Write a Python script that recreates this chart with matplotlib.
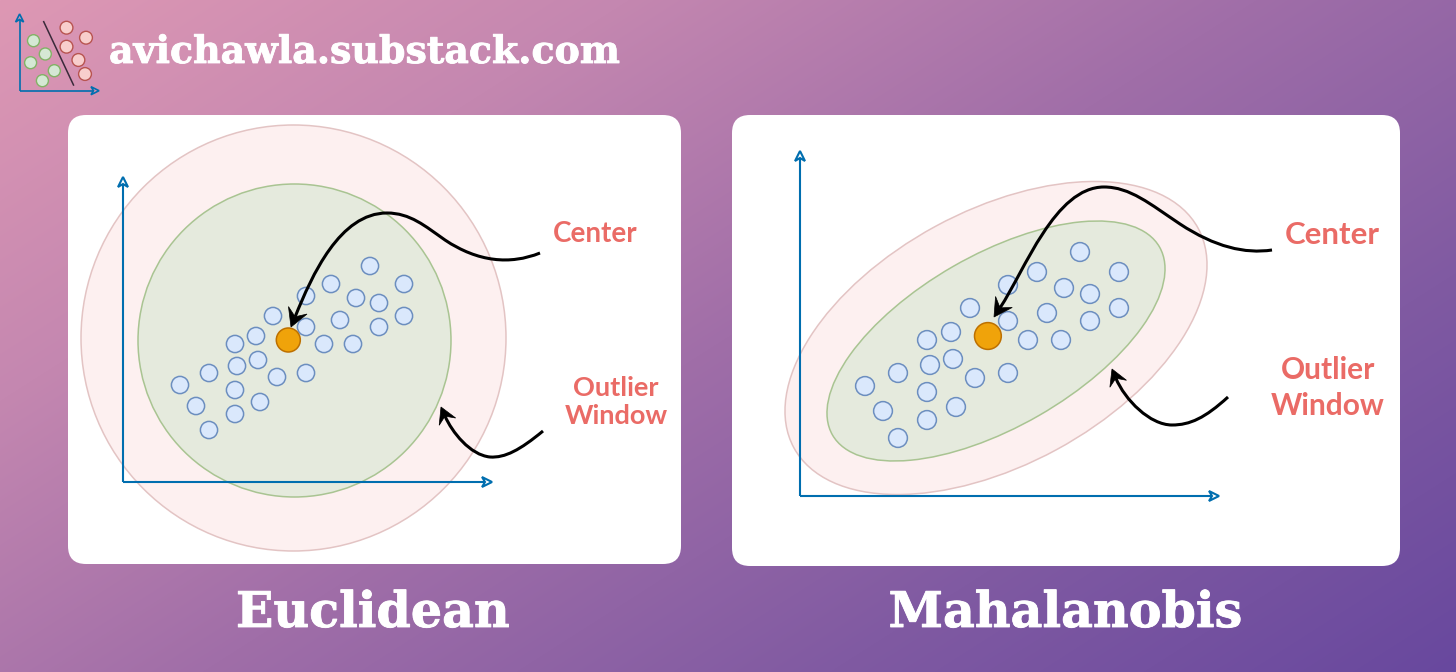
import numpy as np
import matplotlib
matplotlib.use("Agg")
import matplotlib.pyplot as plt
import matplotlib.patheffects as pe
from matplotlib.patches import Ellipse, Circle, FancyBboxPatch, PathPatch, Polygon
from matplotlib.path import Path

W, H = 1456, 672

# --- data (picture pixel coordinates) ---
euclid_x = [370, 404, 331, 306, 356, 379, 404, 273, 340, 379, 306, 256, 235, 324, 353, 258, 237, 209, 306, 277, 180, 235, 196, 260, 235, 209]
euclid_y = [266, 284, 284, 296, 298, 303, 316, 316, 320, 327, 327, 336, 344, 344, 344, 360, 366, 373, 373, 377, 385, 390, 406, 402, 414, 430]
mahal_x = [1080, 1119, 1037, 1008, 1064, 1090, 1119, 970, 1047, 1090, 1008, 951, 927, 1028, 1061, 953, 930, 898, 1008, 975, 865, 927, 883, 956, 927, 898]
mahal_y = [252, 272, 272, 285, 288, 294, 308, 308, 313, 321, 321, 332, 340, 340, 340, 359, 365, 373, 373, 378, 386, 392, 411, 407, 420, 438]
euclid_center = (288.3, 340)
mahal_center = (987.9, 336)
logo_green_x = [33.5, 45.3, 30.6, 54.3, 42.4]
logo_green_y = [40.7, 54, 62.7, 70.7, 80.7]
logo_red_x = [66.5, 86, 66.5, 78.4, 85]
logo_red_y = [27.7, 37.7, 46.7, 60, 74]
site_label = "avichawla.substack.com"
titles = ["Euclidean", "Mahalanobis"]
center_label = "Center"
outlier_label = "Outlier\nWindow"

BLUE_AX = "#006EAF"
serif = "DejaVu Serif"
hand = "Lato"

fig = plt.figure(figsize=(W / 100, H / 100), dpi=100)
ax = fig.add_axes([0, 0, 1, 1])
ax.set_xlim(0, W)
ax.set_ylim(H, 0)
ax.axis("off")

# background diagonal gradient
yy, xx = np.mgrid[0:H, 0:W]
t = (xx / W * 0.58 + yy / H * 0.42)
stops_t = [0.0, 0.25, 0.5, 0.75, 1.0]
stops_c = np.array([[222, 152, 180], [196, 135, 176], [160, 110, 168], [128, 90, 162], [104, 72, 158]]) / 255
img = np.dstack([np.interp(t, stops_t, stops_c[:, i]) for i in range(3)])
ax.imshow(img, extent=[0, W, H, 0], aspect="auto", zorder=0, interpolation="bilinear")

def panel(x0, y0, x1, y1, r=18):
    ax.add_patch(FancyBboxPatch((x0 + r, y0 + r), x1 - x0 - 2 * r, y1 - y0 - 2 * r,
                                boxstyle=f"round,pad={r},rounding_size={r}",
                                fc="white", ec="none", zorder=1))
panel(68, 115, 681, 564)
panel(732, 115, 1400, 566)

OUT_FC, OUT_EC = "#FDF0F0", "#E3C4C4"
IN_FC, IN_EC = "#E5EADD", "#A9C492"
ax.add_patch(Ellipse((293.5, 338), 425, 426, fc=OUT_FC, ec=OUT_EC, lw=1.1, zorder=2))
ax.add_patch(Ellipse((294.5, 340.5), 313, 313, fc=IN_FC, ec=IN_EC, lw=1.1, zorder=3))
ax.add_patch(Ellipse((996, 338), 2 * 230, 2 * 127, angle=-28.5, fc=OUT_FC, ec=OUT_EC, lw=1.1, zorder=2))
ax.add_patch(Ellipse((996, 341), 2 * 188.6, 2 * 86, angle=-29.9, fc=IN_FC, ec=IN_EC, lw=1.1, zorder=3))

def head(tip, frm, L, Wd, notch, fc, ec, lw, z):
    tip, frm = np.array(tip, float), np.array(frm, float)
    d = (tip - frm) / np.hypot(*(tip - frm))
    n = np.array([-d[1], d[0]])
    pts = [tip, tip - L * d + Wd * n, tip - notch * d, tip - L * d - Wd * n]
    ax.add_patch(Polygon(pts, closed=True, fc=fc, ec=ec, lw=lw, joinstyle="miter", zorder=z))
    return tip - notch * d

def axis_lines(ox, oy, xt, yt, lw=1.5, L=10, Wd=5, notch=7, fc="white"):
    for tip in [(xt, oy), (ox, yt)]:
        end = np.array(tip, float)
        d = np.array([ox, oy], float) - end
        end = end + d / np.hypot(*d) * notch
        ax.plot([ox, end[0]], [oy, end[1]], color=BLUE_AX, lw=lw, solid_capstyle="butt", zorder=4)
        head(tip, (ox, oy), L, Wd, notch, fc, BLUE_AX, lw, 4)
axis_lines(123, 482, 492, 177)
axis_lines(800, 496, 1219, 151)

def dots(xs, ys, r, fc, ec, lw=1.1, z=5):
    for x, y in zip(xs, ys):
        ax.add_patch(Circle((x, y), r, fc=fc, ec=ec, lw=lw, zorder=z))
dots(euclid_x, euclid_y, 8.6, "#DAE8FC", "#6C8EBF")
dots(mahal_x, mahal_y, 9.4, "#DAE8FC", "#6C8EBF")
dots(*[[v] for v in euclid_center], 12, "#F0A30A", "#BD7000")
dots(*[[v] for v in mahal_center], 13.4, "#F0A30A", "#BD7000")

def curve(points, lw=2.2, L=18, Wd=10, notch=11):
    end = head(points[-1], points[-2], L, Wd, notch, "black", "black", 0.5, 6)
    pts = list(points[:-1]) + [tuple(end)]
    codes = [Path.MOVETO] + [Path.CURVE4] * (len(pts) - 1)
    ax.add_patch(PathPatch(Path(pts, codes), fc="none", ec="black", lw=lw, capstyle="butt", zorder=6))

curve([(540, 253), (510, 265), (478, 262), (445, 240),
       (425, 226), (410, 213), (387, 213),
       (340, 213), (312, 275), (291, 327)])
curve([(543, 431), (520, 450), (505, 458), (490, 457),
       (470, 455), (452, 432), (441, 407)], L=16, Wd=9, notch=10)
curve([(1272, 250), (1245, 254), (1215, 247), (1180, 224),
       (1150, 204), (1130, 187), (1104, 187),
       (1055, 187), (1025, 270), (994, 317)])
curve([(1228, 397), (1205, 418), (1190, 425), (1172, 425),
       (1150, 425), (1125, 400), (1112, 369)], L=16, Wd=9, notch=10)

# side labels
LAB = "#EA6B66"
lab_kw = dict(color=LAB, family=hand, fontweight="bold", ha="center", va="center", zorder=7)
ax.text(595.5, 234, center_label, fontsize=20, **lab_kw)
ax.text(616, 402, outlier_label, fontsize=19.5, linespacing=1.25, **lab_kw)
ax.text(1332, 235, center_label, fontsize=22.5, **lab_kw)
ax.text(1328, 388, outlier_label, fontsize=21.5, linespacing=1.33, **lab_kw)

# titles
bold = [pe.withStroke(linewidth=0.6, foreground="white")]
for cx, title in zip([372.5, 1065], titles):
    ax.text(cx, 627, title, color="white", family=serif, fontweight="bold", fontsize=35.4,
            ha="center", va="baseline", zorder=7, path_effects=bold)
ax.text(109, 63, site_label, color="white", family=serif, fontweight="bold", fontsize=27.3,
        ha="left", va="baseline", zorder=7, path_effects=bold)

# logo
axis_lines(19.6, 90.7, 99, 14, lw=1.2, L=8, Wd=4, notch=5.5, fc="#D592B4")
ax.plot([43.7, 73.5], [21.7, 85], color="#3A2A3A", lw=1.1, zorder=4)
dots(logo_green_x, logo_green_y, 6, "#D5E8D4", "#82B366", lw=1.0)
dots(logo_red_x, logo_red_y, 6.4, "#F8CECC", "#B85450", lw=1.0)

ax.set_xlim(0, W)
ax.set_ylim(H, 0)
fig.savefig("out.png", dpi=100)
